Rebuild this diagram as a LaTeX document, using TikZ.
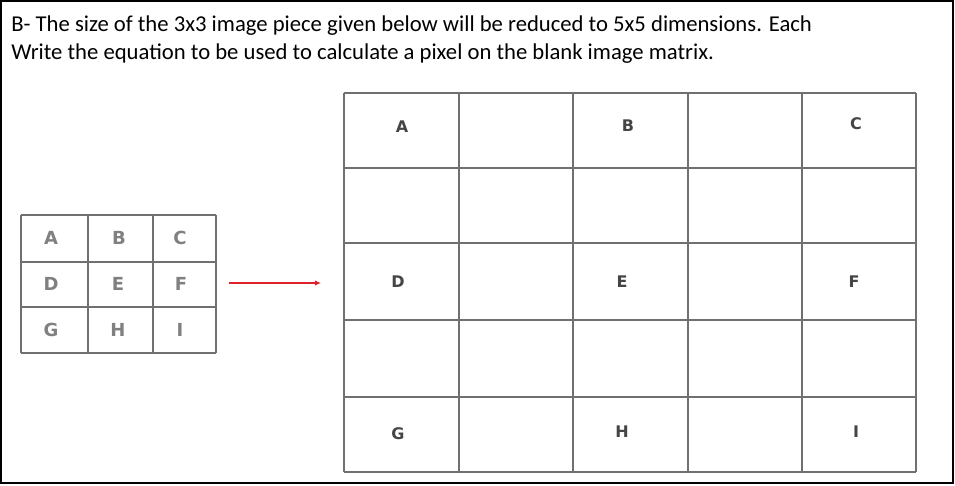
\documentclass[tikz,border=0pt]{standalone}
\usepackage{fontspec}
\setmainfont{Carlito}
\newfontfamily\letf[BoldFont={DejaVu Sans Bold}]{DejaVu Sans}
\usetikzlibrary{arrows.meta}
\definecolor{gridc}{HTML}{707070}
\definecolor{smalllet}{HTML}{808080}
\definecolor{biglet}{HTML}{454545}
\definecolor{arrowred}{HTML}{E0202A}
\tikzset{
  gridline/.style={draw=gridc, line width=1.2pt},
  smalltxt/.style={font=\letf\bfseries\fontsize{13.5pt}{15pt}\selectfont, text=smalllet, inner sep=0pt},
  bigtxt/.style={font=\letf\bfseries\fontsize{12pt}{14pt}\selectfont, text=biglet, inner sep=0pt},
  qtext/.style={font=\fontsize{17pt}{20pt}\selectfont, anchor=base west, inner sep=0pt},
  redarrow/.style={draw=arrowred, line width=0.8pt, -{Latex[length=4.5pt,width=4pt]}}
}
\begin{document}
\begin{tikzpicture}[x=0.75pt,y=-0.75pt]
\useasboundingbox (0,0) rectangle (955,485);
\fill[white] (0,0) rectangle (955,485);
\draw[line width=1.5pt] (1,1) rectangle (953,483);
\node[qtext] (t1) at (11,32) {B- The size of the 3x3 image piece given below will be reduced to 5x5 dimensions. Each};
\node[qtext] (t2) at (11,60) {Write the equation to be used to calculate a pixel on the blank image matrix.};
% small grid
\foreach \x in {21,88,153,216} \draw[gridline] (\x,215) -- (\x,353);
\foreach \y in {215,262,307,353} \draw[gridline] (21,\y) -- (216,\y);
\node[smalltxt] (sA) at (51,238) {A};
\node[smalltxt] (sB) at (119,238) {B};
\node[smalltxt] (sC) at (180,238) {C};
\node[smalltxt] (sD) at (51,284) {D};
\node[smalltxt] (sE) at (118,284) {E};
\node[smalltxt] (sF) at (181,284) {F};
\node[smalltxt] (sG) at (51,330) {G};
\node[smalltxt] (sH) at (118,330) {H};
\node[smalltxt] (sI) at (180,330) {I};
% arrow
\coordinate (arS) at (229,283);
\coordinate (arE) at (321,283);
\draw[redarrow] (arS) -- (arE);
% big grid
\foreach \x in {344,459,573,688,802,916} \draw[gridline] (\x,93) -- (\x,472);
\foreach \y in {93,168,243,320,397,472} \draw[gridline] (344,\y) -- (916,\y);
\node[bigtxt] (bA) at (402,127) {A};
\node[bigtxt] (bB) at (628,126) {B};
\node[bigtxt] (bC) at (856,124) {C};
\node[bigtxt] (bD) at (398,282) {D};
\node[bigtxt] (bE) at (622,282) {E};
\node[bigtxt] (bF) at (854,282) {F};
\node[bigtxt] (bG) at (398,434) {G};
\node[bigtxt] (bH) at (622,432) {H};
\node[bigtxt] (bI) at (856,432) {I};
\end{tikzpicture}
\end{document}
